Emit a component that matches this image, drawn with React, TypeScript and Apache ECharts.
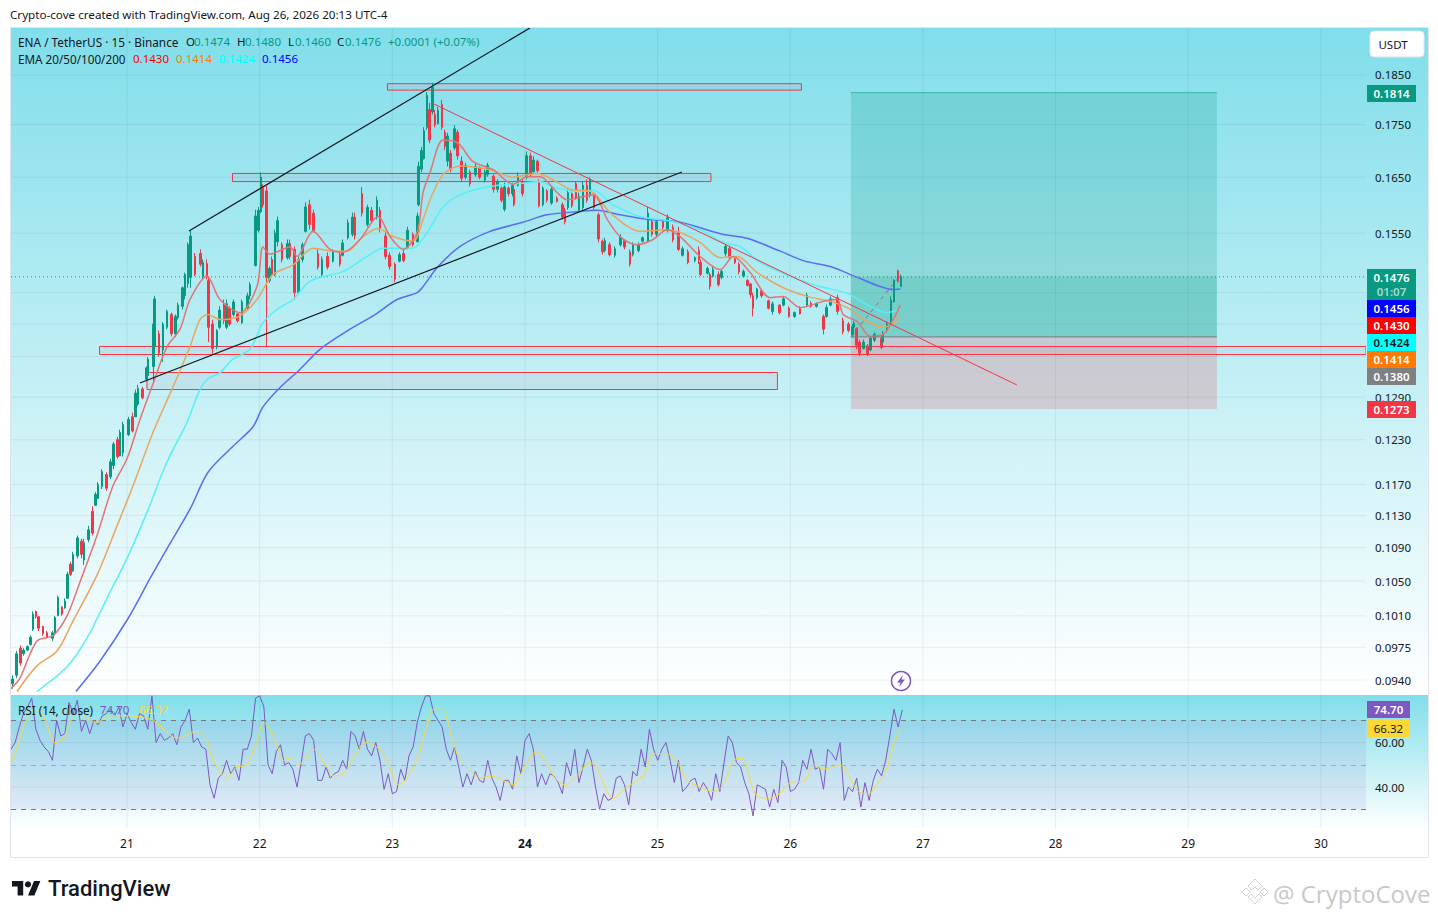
import React, { useEffect, useRef } from "react";
import * as echarts from "echarts";

const X_MIN = 20.1257;
const X_MAX = 30.34;
const PRICE_MIN = 0.09254;
const PRICE_MAX = 0.19499;
const RSI_MIN = 21.15;
const RSI_MAX = 81.37;

const DAY_TICKS = [21, 22, 23, 24, 25, 26, 27, 28, 29, 30];
const PRICE_TICKS = [0.185, 0.175, 0.165, 0.155, 0.145, 0.14, 0.135, 0.129, 0.123, 0.117, 0.113, 0.109, 0.105, 0.101, 0.0975, 0.094];
const PRICE_TICKS_UNDER_TAGS = [0.145, 0.14, 0.135];
const RSI_TICKS = [60, 40];
const RSI_BANDS = [70, 50, 30];

// [15-minute slot from the left edge, open, close, low, high]
const candles = [
[1,.0936,.0941,.0931,.0945],[4,.0945,.0968,.0942,.0971],[7,.0974,.0958,.0955,.0977],[9,.0968,.0972,.0966,.0974],[12,.0972,.0976,.0971,.0977],[14,.0978,.0986,.0977,.0988],[16,.0995,.1012,.0993,.1015],[18,.1015,.1009,.1007,.1016],[20,.1009,.0996,.0993,.1010],[23,.0998,.0990,.0988,.0999],[26,.0991,.0986,.0985,.0993],[30,.0985,.0991,.0982,.0993],[32,.0990,.1008,.0988,.1010],[34,.1010,.1031,.1010,.1033],[37,.1020,.1012,.1010,.1021],[39,.1019,.1027,.1018,.1030],[41,.1030,.1058,.1030,.1061],[43,.1070,.1058,.1056,.1073],[45,.1062,.1082,.1061,.1085],[48,.1080,.1102,.1077,.1105],[51,.1098,.1082,.1077,.1101],[53,.1075,.1096,.1069,.1101],[56,.1100,.1112,.1097,.1117],[59,.1135,.1108,.1105,.1142],[61,.1143,.1157,.1142,.1160],[63,.1152,.1170,.1151,.1173],[66,.1167,.1187,.1164,.1190],[69,.1183,.1165,.1162,.1186],[72,.1180,.1200,.1177,.1204],[74,.1195,.1224,.1190,.1227],[77,.1230,.1207,.1204,.1234],[79,.1208,.1240,.1210,.1244],[81,.1212,.1251,.1207,.1255],[85,.1237,.1258,.1235,.1262],[88,.1262,.1242,.1240,.1268],[90,.1262,.1296,.1262,.1301],[92,.1280,.1303,.1277,.1308],[95,.1302,.1289,.1287,.1305],[98,.1316,.1333,.1313,.1335],[99,.1322,.1346,.1320,.1349],[103,.1335,.1400,.1312,.1403],[104,.1365,.1440,.1350,.1445],[107,.1385,.1355,.1350,.1390],[110,.1360,.1400,.1342,.1403],[113,.1395,.1420,.1392,.1423],[116,.1415,.1385,.1381,.1418],[119,.1385,.1412,.1380,.1415],[121,.1410,.1430,.1407,.1434],[124,.1428,.1458,.1423,.1460],[126,.1445,.1480,.1439,.1483],[128,.1465,.1530,.1458,.1534],[130,.1475,.1545,.1458,.1554],[133,.1510,.1480,.1477,.1516],[137,.1515,.1497,.1493,.1522],[139,.1477,.1500,.1472,.1505],[142,.1498,.1477,.1472,.1505],[143,.1470,.1395,.1372,.1477],[146,.1400,.1362,.1354,.1407],[149,.1365,.1390,.1361,.1392],[151,.1395,.1422,.1392,.1428],[154,.1430,.1405,.1400,.1439],[156,.1395,.1432,.1392,.1439],[158,.1425,.1400,.1397,.1428],[161,.1415,.1435,.1412,.1439],[164,.1416,.1405,.1402,.1418],[167,.1402,.1435,.1400,.1439],[171,.1425,.1445,.1423,.1450],[173,.1445,.1463,.1439,.1467],[177,.1495,.1580,.1493,.1591],[179,.1555,.1590,.1551,.1596],[181,.1588,.1650,.1585,.1659],[182,.1630,.1600,.1595,.1637],[185,.1625,.1475,.1365,.1634],[187,.1470,.1490,.1466,.1493],[189,.1505,.1480,.1477,.1510],[191,.1480,.1550,.1477,.1556],[193,.1535,.1572,.1527,.1579],[196,.1530,.1505,.1500,.1534],[200,.1508,.1532,.1505,.1539],[202,.1532,.1510,.1505,.1539],[205,.1522,.1450,.1439,.1527],[208,.1450,.1505,.1452,.1510],[211,.1505,.1530,.1500,.1534],[213,.1553,.1596,.1551,.1604],[216,.1600,.1565,.1556,.1609],[219,.1585,.1555,.1551,.1591],[222,.1515,.1492,.1488,.1522],[225,.1480,.1505,.1477,.1510],[229,.1510,.1492,.1488,.1517],[233,.1502,.1518,.1500,.1522],[238,.1513,.1497,.1493,.1517],[240,.1512,.1533,.1510,.1539],[244,.1542,.1568,.1539,.1574],[247,.1548,.1578,.1544,.1586],[249,.1578,.1545,.1539,.1586],[254,.1620,.1585,.1579,.1632],[258,.1565,.1595,.1561,.1600],[261,.1590,.1572,.1568,.1596],[265,.1578,.1608,.1574,.1615],[267,.1590,.1558,.1551,.1596],[271,.1545,.1510,.1505,.1551],[274,.1512,.1493,.1488,.1517],[278,.1497,.1472,.1467,.1500],[281,.1502,.1513,.1500,.1517],[284,.1515,.1503,.1500,.1522],[287,.1525,.1555,.1522,.1561],[291,.1548,.1530,.1527,.1551],[294,.1535,.1580,.1534,.1586],[295,.1600,.1670,.1597,.1679],[297,.1665,.1700,.1659,.1707],[299,.1685,.1738,.1683,.1745],[301,.1745,.1808,.1740,.1815],[303,.1780,.1720,.1714,.1793],[305,.1775,.1825,.1770,.1834],[307,.1770,.1750,.1745,.1779],[309,.1752,.1778,.1750,.1785],[312,.1790,.1745,.1740,.1799],[314,.1735,.1708,.1701,.1740],[316,.1680,.1728,.1670,.1734],[318,.1695,.1665,.1659,.1701],[321,.1705,.1742,.1701,.1749],[323,.1735,.1690,.1683,.1740],[326,.1680,.1648,.1642,.1689],[329,.1650,.1672,.1646,.1677],[332,.1660,.1638,.1633,.1664],[336,.1655,.1670,.1651,.1677],[339,.1668,.1650,.1646,.1670],[343,.1645,.1660,.1640,.1664],[345,.1655,.1672,.1651,.1677],[349,.1652,.1628,.1622,.1655],[352,.1628,.1642,.1622,.1646],[355,.1630,.1608,.1604,.1633],[357,.1592,.1632,.1588,.1640],[360,.1630,.1620,.1615,.1633],[363,.1620,.1635,.1615,.1640],[364,.1628,.1600,.1597,.1633],[367,.1635,.1652,.1633,.1659],[370,.1642,.1620,.1615,.1646],[373,.1650,.1690,.1646,.1698],[376,.1690,.1655,.1651,.1696],[378,.1660,.1682,.1659,.1689],[381,.1680,.1662,.1659,.1683],[382,.1640,.1598,.1595,.1646],[385,.1600,.1630,.1597,.1633],[388,.1625,.1608,.1604,.1628],[391,.1603,.1628,.1600,.1633],[395,.1612,.1606,.1604,.1615],[399,.1600,.1578,.1574,.1604],[401,.1590,.1570,.1565,.1595],[403,.1595,.1622,.1591,.1628],[406,.1620,.1598,.1595,.1622],[409,.1638,.1612,.1609,.1642],[411,.1590,.1615,.1586,.1622],[414,.1595,.1635,.1588,.1642],[417,.1635,.1608,.1604,.1646],[419,.1618,.1645,.1613,.1650],[422,.1618,.1595,.1591,.1622],[425,.1582,.1540,.1534,.1586],[428,.1536,.1518,.1513,.1539],[430,.1520,.1537,.1517,.1542],[433,.1530,.1513,.1510,.1534],[437,.1512,.1523,.1508,.1527],[441,.1530,.1543,.1527,.1548],[444,.1537,.1526,.1522,.1539],[448,.1518,.1497,.1493,.1522],[450,.1513,.1530,.1510,.1534],[454,.1520,.1530,.1517,.1534],[457,.1536,.1542,.1534,.1544],[461,.1535,.1585,.1534,.1596],[464,.1570,.1548,.1544,.1574],[467,.1548,.1570,.1543,.1574],[472,.1570,.1560,.1556,.1574],[475,.1555,.1577,.1551,.1583],[479,.1560,.1538,.1534,.1565],[483,.1552,.1522,.1519,.1561],[486,.1512,.1523,.1510,.1527],[490,.1518,.1500,.1497,.1522],[495,.1503,.1508,.1500,.1510],[498,.1520,.1505,.1497,.1527],[499,.1500,.1480,.1477,.1505],[504,.1482,.1490,.1480,.1493],[506,.1480,.1460,.1455,.1483],[508,.1477,.1488,.1475,.1493],[512,.1480,.1463,.1460,.1485],[514,.1475,.1485,.1472,.1488],[517,.1515,.1527,.1510,.1530],[520,.1524,.1508,.1505,.1527],[524,.1506,.1500,.1497,.1508],[527,.1497,.1484,.1480,.1500],[530,.1477,.1485,.1475,.1488],[533,.1470,.1462,.1460,.1472],[535,.1464,.1447,.1442,.1466],[537,.1445,.1425,.1412,.1450],[540,.1442,.1456,.1439,.1458],[543,.1453,.1445,.1442,.1455],[548,.1437,.1425,.1423,.1439],[551,.1420,.1432,.1415,.1436],[556,.1430,.1418,.1415,.1431],[559,.1430,.1440,.1428,.1444],[563,.1425,.1412,.1410,.1428],[567,.1412,.1418,.1410,.1420],[571,.1425,.1416,.1415,.1428],[576,.1430,.1446,.1428,.1450],[579,.1433,.1428,.1426,.1436],[583,.1428,.1433,.1426,.1434],[588,.1412,.1392,.1384,.1415],[590,.1412,.1426,.1410,.1431],[593,.1430,.1440,.1428,.1444],[598,.1442,.1420,.1415,.1447],[602,.1405,.1388,.1384,.1410],[606,.1400,.1390,.1387,.1403],[609,.1383,.1396,.1379,.1400],[610,.1395,.1401,.1392,.1405],[612,.1393,.1367,.1361,.1395],[614,.1372,.1355,.1351,.1376],[617,.1362,.1372,.1361,.1376],[620,.1366,.1354,.1351,.1369],[622,.1360,.1378,.1358,.1381],[625,.1375,.1384,.1372,.1387],[630,.1378,.1364,.1361,.1381],[631,.1372,.1385,.1369,.1389],[634,.1390,.1400,.1387,.1404],[637,.1402,.1438,.1402,.1444],[639,.1435,.1470,.1434,.1472],[642,.1486,.1468,.1467,.1488],[644,.1460,.1476,.1460,.1480],
];

// [day, price]
const ema20 = [[20.126,.0931],[20.193,.0942],[20.321,.0982],[20.442,.0988],[20.548,.1010],[20.646,.1049],[20.774,.1105],[20.894,.1168],[21,.1204],[21.098,.1258],[21.188,.1305],[21.302,.1365],[21.4,.1392],[21.475,.1439],[21.603,.1477],[21.701,.1439],[21.852,.1418],[21.98,.1460],[22.025,.1526],[22.078,.1514],[22.229,.1526],[22.282,.1510],[22.402,.1553],[22.531,.1522],[22.629,.1517],[22.757,.1539],[22.893,.1579],[22.983,.1544],[23.081,.1522],[23.187,.1551],[23.232,.1622],[23.285,.1659],[23.383,.1720],[23.496,.1714],[23.609,.1679],[23.76,.1664],[23.91,.1637],[24.016,.1651],[24.114,.1651],[24.242,.1622],[24.317,.1609],[24.514,.1618],[24.62,.1574],[24.717,.1544],[24.845,.1530],[24.966,.1539],[25.072,.1556],[25.17,.1544],[25.32,.1510],[25.472,.1488],[25.57,.1510],[25.698,.1483],[25.849,.1442],[25.947,.1444],[26.075,.1426],[26.249,.1436],[26.354,.1439],[26.399,.1415],[26.505,.1404],[26.602,.1381],[26.7,.1384],[26.776,.1407],[26.829,.1430]];
const ema50 = [[20.171,.0928],[20.321,.0955],[20.472,.0971],[20.593,.1004],[20.774,.1057],[20.925,.1117],[21.045,.1168],[21.196,.1240],[21.347,.1305],[21.475,.1365],[21.55,.1407],[21.611,.1415],[21.701,.1407],[21.852,.1413],[21.98,.1439],[22.101,.1480],[22.252,.1496],[22.402,.1524],[22.553,.1519],[22.659,.1519],[22.779,.1544],[22.893,.1558],[23.006,.1544],[23.156,.1536],[23.232,.1574],[23.285,.1609],[23.383,.1655],[23.511,.1671],[23.737,.1664],[23.91,.1650],[24.091,.1657],[24.242,.1641],[24.34,.1628],[24.514,.1622],[24.642,.1586],[24.868,.1553],[25.072,.1556],[25.17,.1551],[25.32,.1534],[25.472,.1508],[25.6,.1510],[25.751,.1483],[25.947,.1458],[26.128,.1444],[26.301,.1436],[26.429,.1426],[26.58,.1404],[26.7,.1395],[26.776,.1401],[26.829,.1414]];
const ema100 = [[20.321,.0928],[20.548,.0954],[20.698,.0985],[20.849,.1030],[21,.1077],[21.151,.1134],[21.302,.1200],[21.452,.1254],[21.55,.1301],[21.611,.1317],[21.701,.1326],[21.799,.1346],[21.927,.1361],[22.025,.1402],[22.131,.1423],[22.252,.1439],[22.38,.1469],[22.629,.1485],[22.81,.1510],[22.93,.1524],[23.156,.1524],[23.262,.1551],[23.383,.1596],[23.511,.1618],[23.737,.1633],[23.986,.1639],[24.114,.1642],[24.212,.1632],[24.393,.1624],[24.514,.1626],[24.664,.1600],[24.868,.1579],[25.117,.1570],[25.32,.1556],[25.494,.1534],[25.622,.1527],[25.773,.1500],[26.022,.1475],[26.225,.1460],[26.429,.1449],[26.602,.1428],[26.73,.1418],[26.829,.1424]];
const ema200 = [[20.615,.0928],[20.796,.0960],[21.008,.1007],[21.173,.1053],[21.302,.1089],[21.475,.1138],[21.611,.1186],[21.799,.1221],[21.95,.1248],[22.025,.1276],[22.154,.1304],[22.305,.1331],[22.455,.1361],[22.681,.1392],[22.87,.1415],[23.036,.1439],[23.187,.1450],[23.232,.1460],[23.345,.1493],[23.511,.1527],[23.737,.1553],[23.986,.1569],[24.167,.1582],[24.416,.1588],[24.544,.1590],[24.717,.1582],[24.921,.1574],[25.17,.1569],[25.472,.1549],[25.675,.1541],[25.924,.1519],[26.097,.1503],[26.301,.1493],[26.474,.1478],[26.678,.1460],[26.776,.1455],[26.829,.1456]];

// one value every 3 slots, from the left edge
const rsi = [57,60,67,73,76,80,66,61,58,56,52,70,63,64,78,73,79,65,70,64,70,68,72,73,75,72,76,67,73,69,66,73,72,66,81,60,64,61,62,64,59,67,70,75,60,62,58,57,41,35,44,46,52,46,49,43,57,57,63,80,81,76,50,46,56,59,50,51,48,40,51,63,64,61,43,43,49,44,46,47,52,48,65,63,57,65,57,54,60,52,39,46,37,38,48,43,54,58,69,76,81,81,73,70,67,57,52,58,49,40,46,41,47,43,
42,52,44,40,34,43,43,39,54,46,61,64,57,40,46,41,46,45,42,37,51,45,57,42,49,57,52,40,30,37,34,35,44,45,41,32,47,45,57,49,66,57,52,57,60,52,42,52,38,40,43,44,38,42,39,34,46,38,51,63,60,51,49,42,37,27,41,40,39,31,39,33,52,49,38,39,42,52,48,57,48,49,39,57,55,52,60,34,40,38,44,31,42,34,43,48,45,52,63,75,67,74.7];
const rsiMa = [[20.126,51],[20.168,57],[20.218,67],[20.269,73],[20.306,75],[20.369,72],[20.419,64],[20.457,60],[20.52,62],[20.57,69],[20.621,73],[20.671,72],[20.772,69],[20.872,72],[21.023,72],[21.198,70],[21.274,66],[21.375,62],[21.525,65],[21.601,61],[21.651,52],[21.752,44],[21.827,49],[21.903,50],[21.978,60],[22.028,69],[22.078,66],[22.154,55],[22.179,52],[22.229,53],[22.292,50],[22.405,57],[22.506,49],[22.556,45],[22.631,46],[22.707,53],[22.795,60],[22.883,58],[22.958,52],[23.046,41],[23.096,43],[23.184,52],[23.26,67],[23.31,75],[23.373,75],[23.46,60],[23.511,52],[23.611,46],[23.662,44],[23.737,45],[23.837,43],[23.913,41],[23.988,48],[24.089,56],[24.165,51],[24.227,44],[24.303,41],[24.391,45],[24.491,51],[24.529,50],[24.667,35],[24.768,40],[24.893,45],[24.968,55],[25.057,55],[25.145,52],[25.22,43],[25.32,40],[25.421,38],[25.496,41],[25.572,52],[25.635,53],[25.735,37],[25.823,35],[25.899,36],[26,42],[26.113,43],[26.175,50],[26.25,48],[26.376,50],[26.451,44],[26.514,38],[26.589,37],[26.664,42],[26.715,46],[26.778,59],[26.829,66.32]];

// [day, price, day, price]
const redBoxes = [[22.9635,.1832,26.084,.1819],[21.795,.1657,25.402,.1642],[20.793,.13653,30.34,.13531],[21.151,.13261,25.903,.13011]];
const targetZone = [[26.457,.1380,29.216,.1814]];
const openZone = [[26.457,.1380,29.216,.1476]];
const stopZone = [[26.457,.1273,29.216,.1380]];
const blackTrends = [[21.467,.15537,24.038,.1950],[21.098,.13106,25.183,.16597]];
const redTrends = [[23.299,.17929,27.708,.13078]];
const entryLine = [[26.457,.1380,29.216,.1380]];
const targetLine = [[26.457,.1814,29.216,.1814]];
const openPath = [[26.457,.1380,26.804,.1472]];
const lastPriceLine = [[X_MIN,.1476,X_MAX,.1476]];

const priceTags = [
  { text: "0.1814", bg: "#089981", fg: "#ffffff" },
  { text: "0.1456", bg: "#0000ff", fg: "#ffffff" },
  { text: "0.1430", bg: "#ff0000", fg: "#ffffff" },
  { text: "0.1424", bg: "#00ffff", fg: "#131722" },
  { text: "0.1414", bg: "#ff7a00", fg: "#ffffff" },
  { text: "0.1380", bg: "#808080", fg: "#ffffff" },
  { text: "0.1273", bg: "#f23645", fg: "#ffffff" },
];
const priceTagTops = [85, 300, 317, 334, 351, 368, 401];

const FONT = "'Noto Sans', sans-serif";
const INK = "#131722";
const UP = "#089981";
const DOWN = "#f23645";
const GRID = "rgba(42,46,57,0.07)";

echarts.graphic.registerShape(
  "tvLogo",
  echarts.graphic.extendPath("M14 22H7V11H0V4h14v18zM28 22h-8l7.5-18h8L28 22z", {})
);

const txt = (x: number, y: number, text: string, fill: string, extra: any = {}) => ({
  type: "text",
  x,
  y,
  z: 100,
  silent: true,
  style: {
    text,
    fill,
    fontSize: extra.size || 11.5,
    fontFamily: extra.family || FONT,
    fontWeight: extra.weight || "normal",
    align: extra.align || "left",
    verticalAlign: "middle",
  },
});
const box = (x: number, y: number, w: number, h: number, fill: any, z = 99, extra: any = {}) => ({
  type: "rect",
  z,
  silent: true,
  shape: { x, y, width: w, height: h, r: extra.r || 0 },
  style: { fill, stroke: extra.stroke, lineWidth: extra.lineWidth },
});
const mark = (points: number[][], stroke: string) => ({
  type: "polygon",
  z: 100,
  silent: true,
  shape: { points },
  style: { fill: "none", stroke, lineWidth: 1 },
});

function overlay() {
  const pane = () =>
    new echarts.graphic.LinearGradient(0, 0, 0, 1, [
      { offset: 0, color: "#80deea" },
      { offset: 1, color: "#ffffff" },
    ]);
  const els: any[] = [
    box(11, 28, 1417, 666, pane(), -5),
    box(11, 695, 1417, 134, pane(), -5),
    box(10.5, 27.5, 1418, 830, "none", 98, { stroke: "#e0e3eb", lineWidth: 1 }),
    txt(10, 14.5, "Crypto-cove created with TradingView.com, Aug 26, 2026 20:13 UTC-4", INK, { size: 11.65 }),
    txt(18, 41.5, "ENA / TetherUS · 15 · Binance", INK, { size: 11.8 }),
    txt(186, 41.5, "O", INK), txt(194, 41.5, "0.1474", UP),
    txt(237, 41.5, "H", INK), txt(245, 41.5, "0.1480", UP),
    txt(288, 41.5, "L", INK), txt(295, 41.5, "0.1460", UP),
    txt(337, 41.5, "C", INK), txt(345, 41.5, "0.1476", UP),
    txt(388, 41.5, "+0.0001 (+0.07%)", UP),
    txt(18, 58.5, "EMA 20/50/100/200", INK, { size: 11.7 }),
    txt(133, 58.5, "0.1430", "#ff0000"),
    txt(176, 58.5, "0.1414", "#ff7a00"),
    txt(219, 58.5, "0.1424", "#00ffff"),
    txt(262, 58.5, "0.1456", "#0000ff"),
    txt(18, 709.5, "RSI (14, close)", INK, { size: 11.7 }),
    txt(100, 709.5, "74.70", "#7e57c2"),
    txt(139, 709.5, "66.32", "#fdd835"),
    box(1370, 31, 54, 26, "#ffffff", 99, { r: 4, stroke: "#e0e3eb", lineWidth: 1 }),
    txt(1393, 44.5, "USDT", INK, { align: "center" }),
    box(1367, 269, 49, 31, UP),
    txt(1391.5, 277.5, "0.1476", "#ffffff", { align: "center", weight: 600 }),
    txt(1391.5, 291.5, "01:07", "rgba(255,255,255,0.65)", { align: "center", weight: 600 }),
    box(1367, 701, 43, 17, "#7e57c2"),
    txt(1388.5, 709.5, "74.70", "#ffffff", { align: "center", weight: 600 }),
    box(1367, 720, 43, 17, "#fdd835"),
    txt(1388.5, 728.5, "66.32", INK, { align: "center" }),
    {
      type: "circle", z: 100, silent: true,
      shape: { cx: 901, cy: 681, r: 9.5 },
      style: { fill: "#ffffff", stroke: "#7e57c2", lineWidth: 1.5 },
    },
    {
      type: "polygon", z: 101, silent: true,
      shape: { points: [[903, 675], [897, 682.5], [900.5, 682.5], [899, 687], [905, 679.5], [901.5, 679.5]] },
      style: { fill: "#7e57c2" },
    },
    { type: "tvLogo", x: 12, y: 877.8, scaleX: 0.8, scaleY: 0.8, z: 100, silent: true, style: { fill: "#131722" } },
    { type: "circle", z: 100, silent: true, shape: { cx: 28, cy: 884.4, r: 3.1 }, style: { fill: "#131722" } },
    txt(48, 888, "TradingView", "#131722", { size: 22, family: "Roboto, sans-serif", weight: 500 }),
    txt(1273, 893, "@ CryptoCove", "#c8c8c8", { size: 24, family: "'Open Sans', sans-serif" }),
    mark([[1255, 879], [1262, 886], [1258, 890], [1255, 887], [1252, 890], [1248, 886]], "#d4cfd6"),
    mark([[1246, 888], [1250, 892], [1246, 896], [1242, 892]], "#d4cfd6"),
    mark([[1264, 888], [1268, 892], [1264, 896], [1260, 892]], "#d4cfd6"),
    mark([[1248, 897], [1255, 904], [1262, 897], [1259, 894], [1255, 898], [1251, 894]], "#d4cfd6"),
  ];
  priceTags.forEach((t, i) => {
    els.push(box(1367, priceTagTops[i], 49, 17, t.bg));
    els.push(txt(1391.5, priceTagTops[i] + 8.5, t.text, t.fg, { align: "center", weight: 600 }));
  });
  return els;
}

const zoneSeries = (data: number[][], fill: string, stroke: string, z = 1) => ({
  type: "custom",
  xAxisIndex: 0,
  yAxisIndex: 0,
  z,
  silent: true,
  encode: { x: [0, 2], y: [1, 3] },
  clip: true,
  data,
  renderItem: (_: any, api: any) => {
    const a = api.coord([api.value(0), api.value(1)]);
    const b = api.coord([api.value(2), api.value(3)]);
    return {
      type: "rect",
      shape: { x: Math.min(a[0], b[0]), y: Math.min(a[1], b[1]), width: Math.abs(a[0] - b[0]), height: Math.abs(a[1] - b[1]) },
      style: { fill, stroke, lineWidth: 1 },
    };
  },
});
const segmentSeries = (data: number[][], stroke: string, width = 1, lineDash?: number[], z = 6) => ({
  type: "custom",
  xAxisIndex: 0,
  yAxisIndex: 0,
  z,
  silent: true,
  encode: { x: [0, 2], y: [1, 3] },
  clip: true,
  data,
  renderItem: (_: any, api: any) => {
    const a = api.coord([api.value(0), api.value(1)]);
    const b = api.coord([api.value(2), api.value(3)]);
    return {
      type: "line",
      shape: { x1: a[0], y1: a[1], x2: b[0], y2: b[1] },
      style: { stroke, lineWidth: width, lineDash },
    };
  },
});
const tickSeries = (ticks: number[], axis: number, digits: number, unlabelled: number[] = []) => ({
  type: "custom",
  xAxisIndex: axis,
  yAxisIndex: axis,
  z: 1,
  silent: true,
  clip: false,
  data: ticks.map((v) => [X_MIN, v]),
  renderItem: (params: any, api: any) => {
    const p = api.coord([X_MIN, api.value(1)]);
    const right = params.coordSys.x + params.coordSys.width;
    const children: any[] = [
      { type: "line", shape: { x1: p[0], y1: p[1], x2: right, y2: p[1] }, style: { stroke: GRID, lineWidth: 1 } },
    ];
    if (!unlabelled.includes(api.value(1))) {
      children.push({ type: "text", style: { text: api.value(1).toFixed(digits), x: right + 9, y: p[1], fill: INK, font: `11.5px ${FONT}`, align: "left", verticalAlign: "middle" } });
    }
    return { type: "group", children };
  },
});
const emaSeries = (data: number[][], color: string) => ({
  type: "line",
  xAxisIndex: 0,
  yAxisIndex: 0,
  z: 5,
  silent: true,
  showSymbol: false,
  symbol: "none",
  smooth: 0.3,
  data,
  lineStyle: { color, width: 1.5 },
});

export default function App() {
  const ref = useRef<HTMLDivElement>(null);
  useEffect(() => {
    document.body.style.margin = "0";
    const chart = echarts.init(ref.current!, undefined, { renderer: "svg" });
    const xBase = {
      type: "value",
      min: X_MIN,
      max: X_MAX,
      axisLine: { show: false },
      axisTick: { show: false },
      splitLine: { show: false },
      axisLabel: { show: false },
    };
    const dayTickSeries = (axis: number, withLabel: boolean) => ({
      type: "custom",
      z: 1,
      silent: true,
      clip: false,
      xAxisIndex: axis,
      yAxisIndex: axis,
      data: DAY_TICKS.map((d) => [d, axis === 0 ? PRICE_MIN : RSI_MIN]),
      renderItem: (params: any, api: any) => {
        const p = api.coord([api.value(0), api.value(1)]);
        const cs = params.coordSys;
        const children: any[] = [
          { type: "line", shape: { x1: p[0], y1: cs.y, x2: p[0], y2: cs.y + cs.height }, style: { stroke: GRID, lineWidth: 1 } },
        ];
        if (withLabel) {
          const d = api.value(0);
          children.push({
            type: "text",
            style: { text: String(d), x: p[0], y: cs.y + cs.height + 14.5, fill: INK, font: `${d === 24 ? "bold " : ""}12px ${FONT}`, align: "center", verticalAlign: "middle" },
          });
        }
        return { type: "group", children };
      },
    });
    chart.setOption({
      animation: false,
      tooltip: { show: false },
      graphic: { elements: overlay() },
      grid: [
        { left: 11, right: 72, top: 28, height: 666 },
        { left: 11, right: 72, top: 695, height: 134 },
      ],
      xAxis: [
        { ...xBase, gridIndex: 0 },
        { ...xBase, gridIndex: 1 },
      ],
      yAxis: [
        { type: "log", logBase: Math.E, gridIndex: 0, min: PRICE_MIN, max: PRICE_MAX, position: "right", axisLine: { show: false }, axisTick: { show: false }, splitLine: { show: false }, axisLabel: { show: false } },
        { type: "value", gridIndex: 1, min: RSI_MIN, max: RSI_MAX, position: "right", axisLine: { show: false }, axisTick: { show: false }, splitLine: { show: false }, axisLabel: { show: false } },
      ],
      series: [
        tickSeries(PRICE_TICKS, 0, 4, PRICE_TICKS_UNDER_TAGS),
        tickSeries(RSI_TICKS, 1, 2),
        dayTickSeries(0, false),
        dayTickSeries(1, true),
        zoneSeries(redBoxes, "rgba(180,178,200,0.2)", DOWN),
        zoneSeries(targetZone, "rgba(8,153,129,0.2)", "transparent"),
        zoneSeries(openZone, "rgba(8,153,129,0.2)", "transparent"),
        zoneSeries(stopZone, "rgba(242,54,69,0.2)", "transparent"),
        segmentSeries(lastPriceLine, UP, 1, [1, 3], 2),
        {
          type: "candlestick",
          xAxisIndex: 0,
          yAxisIndex: 0,
          z: 3,
          silent: true,
          barWidth: 2,
          encode: { x: 0, y: [1, 2, 3, 4] },
          data: candles.map((c) => [X_MIN + c[0] / 96, c[1], c[2], c[3], c[4]]),
          itemStyle: { color: UP, color0: DOWN, borderColor: UP, borderColor0: DOWN, borderWidth: 1 },
        },
        emaSeries(ema200, "#5a6cf0"),
        emaSeries(ema100, "#55f0f5"),
        emaSeries(ema50, "#e9a65f"),
        emaSeries(ema20, "#e57373"),
        segmentSeries(blackTrends, "#131722", 1.2),
        segmentSeries(redTrends, DOWN, 1),
        segmentSeries(targetLine, "rgba(8,153,129,0.5)", 1),
        segmentSeries(entryLine, "#787b86", 1),
        segmentSeries(openPath, "#787b86", 1, [4, 4]),
        {
          type: "line",
          xAxisIndex: 1,
          yAxisIndex: 1,
          z: 4,
          silent: true,
          showSymbol: false,
          symbol: "none",
          data: rsi.map((v, i) => [X_MIN + (i * 3) / 96, v]),
          lineStyle: { color: "#7e57c2", width: 1 },
          markArea: {
            silent: true,
            itemStyle: { color: "rgba(126,87,194,0.1)" },
            data: [[{ yAxis: RSI_BANDS[0] }, { yAxis: RSI_BANDS[2] }]],
          },
          markLine: {
            silent: true,
            symbol: "none",
            label: { show: false },
            data: [
              { yAxis: RSI_BANDS[0], lineStyle: { color: "#787b86", type: [5, 5], width: 1 } },
              { yAxis: RSI_BANDS[1], lineStyle: { color: "rgba(120,123,134,0.5)", type: [5, 5], width: 1 } },
              { yAxis: RSI_BANDS[2], lineStyle: { color: "#787b86", type: [5, 5], width: 1 } },
            ],
          },
        },
        {
          type: "line",
          xAxisIndex: 1,
          yAxisIndex: 1,
          z: 5,
          silent: true,
          showSymbol: false,
          symbol: "none",
          smooth: 0.3,
          data: rsiMa,
          lineStyle: { color: "#fdd835", width: 1 },
        },
      ],
    });
    return () => chart.dispose();
  }, []);
  return <div ref={ref} style={{ position: "absolute", left: 0, top: 0, width: 1438, height: 918 }} />;
}
